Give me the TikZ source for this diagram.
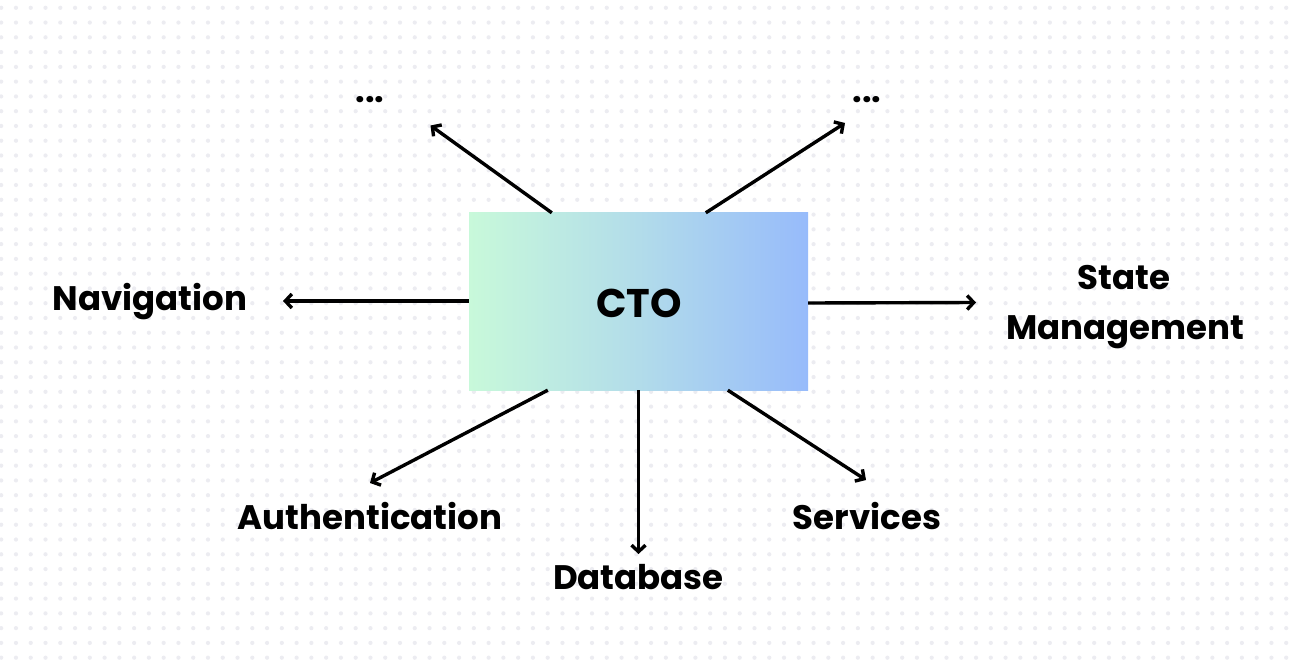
\documentclass[tikz,border=0pt]{standalone}
\usepackage{fontspec}
\setmainfont{Poppins}
\usetikzlibrary{arrows.meta}
\definecolor{dotgrey}{HTML}{ECECF1}
\definecolor{gleft}{HTML}{C8F9DA}
\definecolor{gmid}{HTML}{B2DCEA}
\definecolor{gright}{HTML}{97BBFB}
\begin{document}
\begin{tikzpicture}[x=1pt,y=-1pt,
  lbl/.style={font=\fontsize{34}{40}\selectfont\bfseries, inner sep=0pt, anchor=base},
  arr/.style={line width=3.4pt, -{Straight Barb[length=6.5pt,width=14pt]}}]
\useasboundingbox (0,0) rectangle (1292,660);
\fill[white] (0,0) rectangle (1292,660);
\foreach \i in {0,...,87} {
  \foreach \j in {0,...,44} {
    \fill[dotgrey] ({1.2+14.77*\i},{7.8+14.77*\j}) circle (2.1pt);
  }
}
% central box
\node[minimum width=339pt, minimum height=177pt, inner sep=0pt,
      left color=gleft, right color=gright, middle color=gmid] (cto) at (638.5,301.5) {};
\node[lbl, font=\fontsize{40}{46}\selectfont\bfseries] (ctolbl) at (639,317.5) {CTO};
% labels
\node[lbl] (nav) at (150,310.5) {Navigation};
\node[lbl] (state) at (1124,289) {State};
\node[lbl] (mgmt) at (1125,339) {Management};
\node[lbl] (auth) at (370,529) {Authentication};
\node[lbl] (db) at (638.5,589.5) {Database};
\node[lbl] (serv) at (867,529) {Services};
\node[lbl] (dotsl) at (370,103) {...};
\node[lbl] (dotsr) at (867,103) {...};
% arrow end coordinates
\coordinate (tl) at (430.5,125.5);
\coordinate (tr) at (845,123);
\coordinate (le) at (283,301);
\coordinate (ri) at (976,302.5);
\coordinate (bl) at (370,483);
\coordinate (bm) at (638.5,554);
\coordinate (br) at (866,480);
% arrows
\draw[arr] (cto.north west) ++(83,0) -- (tl);
\draw[arr] (cto.north west) ++(237,0) -- (tr);
\draw[arr] (cto.west) ++(0,-0.5) -- (le);
\draw[arr] (cto.east) ++(0,1.5) -- (ri);
\draw[arr] (cto.south west) ++(79,0) -- (bl);
\draw[arr] (cto.south) -- (bm);
\draw[arr] (cto.south west) ++(259,0) -- (br);
\end{tikzpicture}
\end{document}
